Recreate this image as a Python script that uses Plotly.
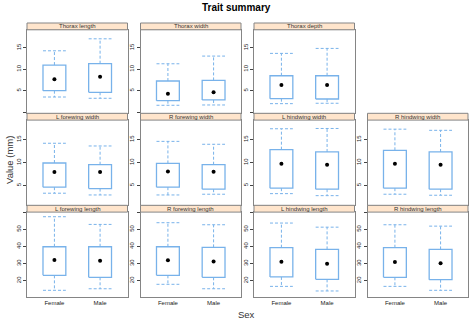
import plotly.graph_objects as go

# ---------------- data ----------------
panels = ["Thorax length", "Thorax width", "Thorax depth",
          "L forewing width", "R forewing width", "L hindwing width", "R hindwing width",
          "L forewing length", "R forewing length", "L hindwing length", "R hindwing length"]
sexes = ["Female", "Male"]

female_low = [3.53, 1.6, 1.98, 3.34, 2.96, 3.25, 3.12, 14.4, 17.9, 16.7, 16.7]
female_q1 = [5.0, 2.67, 3.14, 4.65, 4.65, 4.43, 4.43, 23.15, 23.15, 22.2, 22.0]
female_med = [7.65, 4.3, 6.33, 7.93, 8.06, 9.75, 9.75, 32.1, 31.9, 31.1, 30.9]
female_q3 = [10.98, 7.26, 8.49, 9.9, 9.81, 12.8, 12.66, 39.85, 39.85, 39.3, 39.3]
female_high = [14.3, 11.28, 13.7, 14.19, 14.6, 17.34, 17.25, 57.4, 53.9, 53.7, 52.7]

male_low = [3.23, 1.67, 2.07, 2.96, 3.12, 2.81, 2.9, 15.3, 15.3, 14.0, 14.4]
male_q1 = [4.63, 2.84, 3.07, 4.34, 4.21, 4.21, 4.21, 22.0, 22.0, 20.8, 20.6]
male_med = [8.26, 4.63, 6.33, 7.93, 8.0, 9.53, 9.53, 31.7, 31.3, 29.9, 30.2]
male_q3 = [11.3, 7.4, 8.49, 9.53, 9.53, 12.3, 12.3, 39.85, 39.5, 38.3, 38.3]
male_high = [17.1, 13.07, 14.86, 13.6, 13.97, 17.4, 17.0, 52.9, 52.7, 51.3, 51.9]

panel_row = [0, 0, 0, 1, 1, 1, 1, 2, 2, 2, 2]
panel_col = [0, 1, 2, 0, 1, 2, 3, 0, 1, 2, 3]

row_ranges = [[-0.2, 19.2], [0.78, 19.22], [10.66, 60.1]]
row_tickvals = [[0, 5, 10, 15], [5, 10, 15], [20, 30, 40, 50, 60]]
row_ticktext = [["", "5", "10", "15"], ["5", "10", "15"], ["20", "30", "40", "50", ""]]

# ---------------- layout geometry (pixels) ----------------
W, H = 474, 323
col_left = [27, 140.5, 254, 367.5]
col_w = 100.5
row_strip_top = [23, 113.3, 205.3]
strip_h = 6.8
row_panel_bottom = [113, 205, 296.7]

box_col = "#78b2ea"
border_col = "#858585"
font_fam = "Liberation Sans, Arial, sans-serif"
half = 0.25

fig = go.Figure()
shapes = []
annotations = []
layout_axes = {}

for i, name in enumerate(panels):
    r, c = panel_row[i], panel_col[i]
    ax = "" if i == 0 else str(i + 1)
    xa, ya = "x" + ax, "y" + ax
    x0 = col_left[c] / W
    x1 = (col_left[c] + col_w) / W
    ptop = row_strip_top[r] + strip_h
    pbot = row_panel_bottom[r]
    y0 = 1 - pbot / H
    y1 = 1 - ptop / H

    stats = [
        (female_low[i], female_q1[i], female_med[i], female_q3[i], female_high[i]),
        (male_low[i], male_q1[i], male_med[i], male_q3[i], male_high[i]),
    ]
    for k, (lo, q1, md, q3, hi) in enumerate(stats):
        xc = k + 1
        # box rectangle
        fig.add_trace(go.Scatter(
            x=[xc - half, xc + half, xc + half, xc - half, xc - half],
            y=[q1, q1, q3, q3, q1], mode="lines",
            line=dict(color=box_col, width=1.3), xaxis=xa, yaxis=ya,
            showlegend=False, hoverinfo="skip"))
        # whiskers (dashed) + caps
        fig.add_trace(go.Scatter(
            x=[xc, xc, None, xc, xc, None,
               xc - half, xc + half, None, xc - half, xc + half],
            y=[q3, hi, None, q1, lo, None, hi, hi, None, lo, lo],
            mode="lines", line=dict(color=box_col, width=1, dash="3px,2px"),
            xaxis=xa, yaxis=ya, showlegend=False, hoverinfo="skip"))
        # median dot
        fig.add_trace(go.Scatter(
            x=[xc], y=[md], mode="markers",
            marker=dict(color="black", size=4), xaxis=xa, yaxis=ya,
            showlegend=False, hoverinfo="skip"))

    show_x = (r == 2)
    layout_axes["xaxis" + ax] = dict(
        domain=[x0, x1], anchor=ya, range=[0.4, 2.6],
        tickvals=[1, 2], ticktext=sexes if show_x else ["", ""],
        showticklabels=show_x, ticks="", showgrid=False, zeroline=False,
        showline=True, linecolor=border_col, linewidth=1, mirror=True,
        tickfont=dict(size=6, color="#222", family=font_fam), fixedrange=True)
    layout_axes["yaxis" + ax] = dict(
        domain=[y0, y1], anchor=xa, range=row_ranges[r],
        tickvals=row_tickvals[r], ticktext=row_ticktext[r],
        ticks="outside", ticklen=3, tickcolor="#444", tickwidth=0.8,
        tickangle=-90, showgrid=False, zeroline=False,
        showline=True, linecolor=border_col, linewidth=1, mirror=True,
        tickfont=dict(size=6, color="#222", family=font_fam), fixedrange=True)

    # strip
    sy0 = 1 - (row_strip_top[r] + strip_h) / H
    sy1 = 1 - row_strip_top[r] / H
    shapes.append(dict(type="rect", xref="paper", yref="paper",
                       x0=x0, x1=x1, y0=sy0, y1=sy1,
                       fillcolor="#ffe5cc", line=dict(color=border_col, width=1),
                       layer="above"))
    annotations.append(dict(text=name, xref="paper", yref="paper",
                            x=(x0 + x1) / 2, y=(sy0 + sy1) / 2,
                            xanchor="center", yanchor="middle", showarrow=False,
                            font=dict(size=6, color="#333", family=font_fam)))

annotations.append(dict(text="<b>Trait summary</b>", xref="paper", yref="paper",
                        x=236 / W, y=1 - 7.5 / H, xanchor="center", yanchor="middle",
                        showarrow=False, font=dict(size=10, color="black", family=font_fam)))
annotations.append(dict(text="Value (mm)", xref="paper", yref="paper",
                        x=10 / W, y=1 - 160 / H, xanchor="center", yanchor="middle",
                        textangle=-90, showarrow=False,
                        font=dict(size=9.5, color="#333", family=font_fam)))
annotations.append(dict(text="Sex", xref="paper", yref="paper",
                        x=247 / W, y=1 - 314 / H, xanchor="center", yanchor="middle",
                        showarrow=False, font=dict(size=9.5, color="#333", family=font_fam)))

fig.update_layout(
    width=W, height=H, margin=dict(l=0, r=0, t=0, b=0),
    paper_bgcolor="white", plot_bgcolor="white",
    shapes=shapes, annotations=annotations, showlegend=False,
    **layout_axes)

fig.write_html("out.html")
